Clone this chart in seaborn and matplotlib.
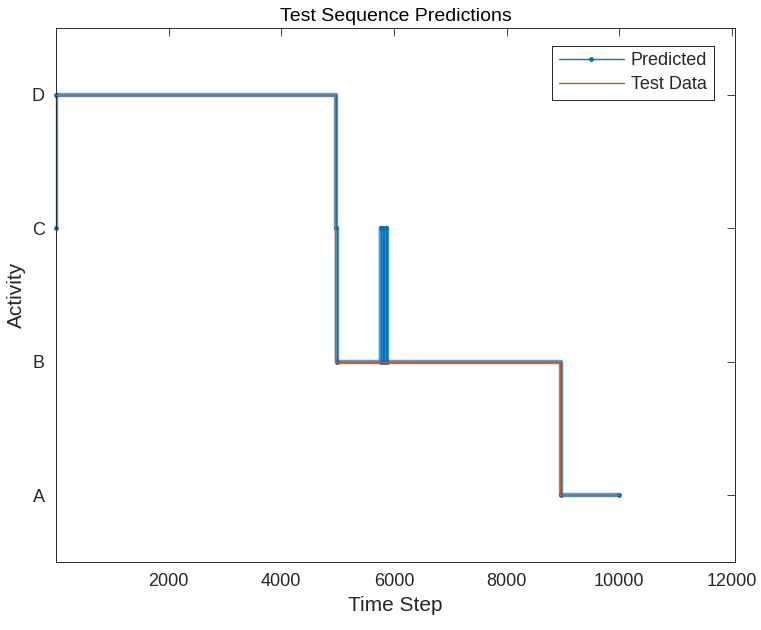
import matplotlib
matplotlib.use("Agg")
import matplotlib.pyplot as plt
import pandas as pd
import seaborn as sns

sns.set_style("white")
plt.rcParams['font.family'] = ['Liberation Sans', 'DejaVu Sans']

# activity levels
activity_labels = ['A', 'B', 'C', 'D']
activity_levels = [1, 2, 3, 4]

# predicted sequence: time step where each new value starts
pred_steps = [1, 2, 4970, 4990, 5765, 5778, 5812, 5825, 5862, 5876, 8970, 10000]
pred_values = [3, 4, 3, 2, 3, 2, 3, 2, 3, 2, 1, 1]

# test data sequence
test_steps = [1, 4950, 8940, 10000]
test_values = [4, 2, 1, 1]

pred = pd.DataFrame({'step': pred_steps, 'activity': pred_values})
test = pd.DataFrame({'step': test_steps, 'activity': test_values})

blue = '#0072BD'
orange = '#D95319'

fig = plt.figure(figsize=(7.61, 6.3), dpi=100)
ax = fig.add_axes([0.0736, 0.108, 0.892, 0.848])

# dense markers in the original make a wide light band along the prediction
sns.lineplot(x='step', y='activity', data=pred, ax=ax, color='#2f86cc',
             drawstyle='steps-post', estimator=None, linewidth=3.2,
             alpha=0.8, legend=False, zorder=1)
sns.lineplot(x='step', y='activity', data=pred, ax=ax, color=blue,
             drawstyle='steps-post', estimator=None, marker='.', markersize=7,
             markeredgecolor=blue, markeredgewidth=0, linewidth=1.0,
             label='Predicted', zorder=2, clip_on=False)
sns.lineplot(x='step', y='activity', data=test, ax=ax, color=orange,
             drawstyle='steps-post', estimator=None, linewidth=1.0,
             label='Test Data', zorder=3)

ax.set_xlim(1, 12050)
ax.set_ylim(0.5, 4.5)
ax.set_xticks([2000, 4000, 6000, 8000, 10000, 12000])
ax.set_yticks(activity_levels)
ax.set_yticklabels(activity_labels)
ax.tick_params(axis='both', which='both', direction='in', length=6, width=0.6,
               labelsize=13, colors='#262626', top=True, right=True, pad=8)
for s in ax.spines.values():
    s.set_color('#262626')
    s.set_linewidth(0.7)

ax.set_title('Test Sequence Predictions', fontsize=14, color='black', pad=5)
ax.set_xlabel('Time Step', fontsize=15, color='#262626', labelpad=4)
ax.set_ylabel('Activity', fontsize=15, color='#262626', labelpad=4)

leg = ax.legend(loc='upper right', fontsize=13, frameon=True, fancybox=False,
                edgecolor='#262626', framealpha=1, borderpad=0.35,
                handlelength=3.6, handletextpad=0.4, labelspacing=0.4,
                bbox_to_anchor=(0.982, 0.983))
leg.get_frame().set_linewidth(0.7)

fig.savefig('out.png', dpi=100)
